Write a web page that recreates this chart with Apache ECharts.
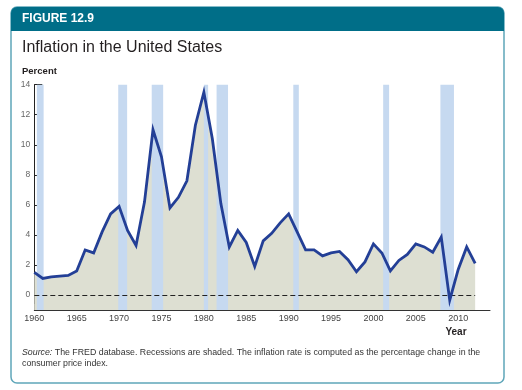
<!DOCTYPE html>
<html><head><meta charset="utf-8">
<script src="https://cdn.jsdelivr.net/npm/echarts@6/dist/echarts.min.js"></script>
<style>html,body{margin:0;padding:0;background:#fff}#c{width:522px;height:390px}</style>
</head><body><div id="c"></div>
<script>
const years = [1960,1961,1962,1963,1964,1965,1966,1967,1968,1969,1970,1971,1972,1973,1974,1975,1976,1977,1978,1979,1980,1981,1982,1983,1984,1985,1986,1987,1988,1989,1990,1991,1992,1993,1994,1995,1996,1997,1998,1999,2000,2001,2002,2003,2004,2005,2006,2007,2008,2009,2010,2011,2012];
const inflation = [1.5,1.1,1.2,1.25,1.3,1.6,3.0,2.8,4.2,5.4,5.9,4.3,3.3,6.2,11.0,9.2,5.8,6.5,7.6,11.3,13.5,10.4,6.1,3.2,4.3,3.5,1.9,3.6,4.1,4.8,5.4,4.2,3.0,3.0,2.6,2.8,2.9,2.35,1.55,2.2,3.4,2.8,1.6,2.3,2.7,3.4,3.2,2.85,3.85,-0.35,1.7,3.2,2.1];
const recessions = [[1960.3,1961.1],[1969.9,1970.95],[1973.85,1975.2],[1980.0,1980.5],[1981.5,1982.85],[1990.55,1991.2],[2001.15,2001.85],[2007.9,2009.5]];
const yTicks = [0,2,4,6,8,10,12,14];
const xTicks = [1960,1965,1970,1975,1980,1985,1990,1995,2000,2005,2010];

const pts = years.map((y,i)=>[y,inflation[i]]);
const chart = echarts.init(document.getElementById('c'), null, {renderer:'canvas'});
const F = 'Liberation Sans, Arial, sans-serif';
chart.setOption({
  animation:false,
  backgroundColor:'#fff',
  graphic:[
    {type:'rect', z:-10, shape:{x:11,y:7,width:493,height:376,r:6}, style:{fill:'#fff',stroke:'#5fa6b9',lineWidth:1.5}},
    {type:'rect', z:-9, shape:{x:11,y:7,width:493,height:24,r:[6,6,0,0]}, style:{fill:'#006e88'}},
    {type:'text', z:-8, x:22, y:19, style:{text:'FIGURE 12.9', fill:'#fff', font:'bold 12px '+F, textVerticalAlign:'middle'}},
    {type:'text', z:-8, x:22, y:48, style:{text:'Inflation in the United States', fill:'#231f20', font:'16px '+F, textVerticalAlign:'middle'}},
    {type:'text', z:-8, x:22, y:71.5, style:{text:'Percent', fill:'#231f20', font:'bold 9.5px '+F, textVerticalAlign:'middle'}},
    {type:'text', z:-8, x:456, y:332, style:{text:'Year', fill:'#231f20', font:'bold 10px '+F, textAlign:'center', textVerticalAlign:'middle'}},
    {type:'text', z:-8, x:22, y:347, style:{
      text:'{i|Source:} The FRED database. Recessions are shaded. The inflation rate is computed as the percentage change in the\nconsumer price index.',
      fill:'#333', font:'8.8px '+F, lineHeight:11,
      rich:{i:{fontStyle:'italic', fontSize:8.8, fontFamily:F, fill:'#333'}}}}
  ],
  grid:{left:34.3, right:32, top:84.7, bottom:80, containLabel:false},
  xAxis:{type:'value', min:1960, max:2013.75,
    axisLine:{show:true, onZero:false, lineStyle:{color:'#333', width:1}},
    axisTick:{show:true, inside:true, length:6, customValues:xTicks, lineStyle:{color:'#666'}},
    axisLabel:{customValues:xTicks, color:'#444', fontSize:9, fontFamily:F, margin:4, formatter:v=>String(v)},
    splitLine:{show:false}},
  yAxis:{type:'value', min:-1, max:14,
    axisLine:{show:true, onZero:false, lineStyle:{color:'#222', width:1}},
    axisTick:{show:true, inside:true, length:8, customValues:yTicks, lineStyle:{color:'#222'}},
    axisLabel:{customValues:yTicks, color:'#666', fontSize:8.5, fontFamily:F, margin:4},
    splitLine:{show:false}},
  series:[
    {type:'line', name:'fill', data:pts, symbol:'none', z:1, silent:true,
      lineStyle:{width:0, opacity:0}, areaStyle:{color:'#dddfd2', origin:'start', opacity:1}},
    {type:'line', name:'bands', data:pts, symbol:'none', z:2, silent:true,
      lineStyle:{width:0, opacity:0},
      markArea:{silent:true, z:2, itemStyle:{color:'#c6d9f0'},
        data: recessions.map(r=>[{xAxis:r[0]},{xAxis:r[1]}])}},
    {type:'line', name:'Inflation', data:pts, symbol:'none', z:5,
      lineStyle:{color:'#233f96', width:2.8, join:'miter'},
      markLine:{silent:true, symbol:'none', z:4, label:{show:false},
        lineStyle:{color:'#222', type:[5,3], width:1},
        data:[[{coord:[years[0],0]},{coord:[years[years.length-1],0]}]]}}
  ]
});
</script></body></html>
